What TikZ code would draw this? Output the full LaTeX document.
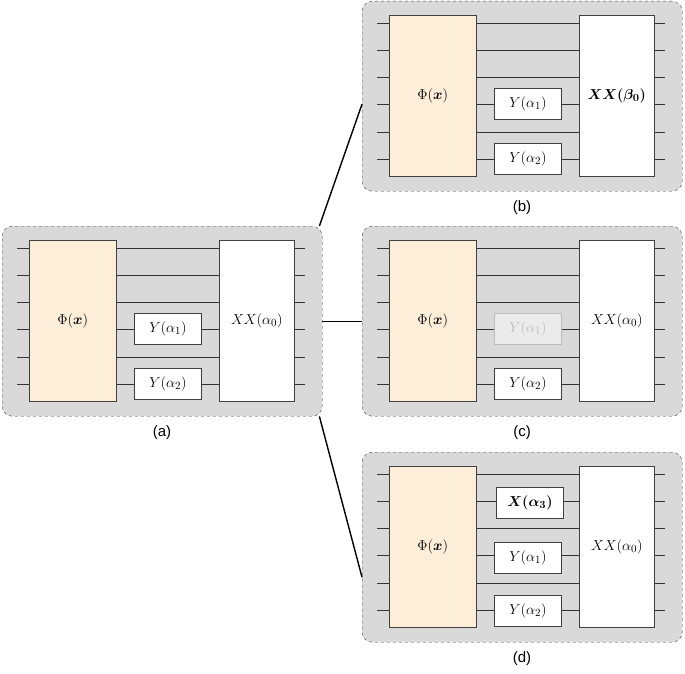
\documentclass[tikz,border=0pt]{standalone}
\usepackage{amsmath}
\usepackage{bm}
\usepackage{fontspec}
\newfontfamily\labelfont{Liberation Sans}
\usepackage{tikz}
\definecolor{panelgrey}{HTML}{D9D9D9}
\definecolor{phifill}{HTML}{FDEEDA}
\definecolor{fadegrey}{HTML}{BDBDBD}
\tikzset{
  panel/.style={draw=black!75, dashed, fill=panelgrey, rounded corners=10pt,
    minimum width=320pt, minimum height=190pt, inner sep=0pt},
  wire/.style={draw=black!80, line width=0.6pt},
  block/.style={draw=black!75, line width=0.6pt, fill=white, inner sep=0pt,
    font=\fontsize{15}{18}\selectfont},
  gate/.style={block, minimum width=67pt, minimum height=31pt},
  link/.style={line width=1.4pt}
}
% one circuit panel: #1 name, #2/#3 top left corner, #4 XX text, #5 caption
\newcommand\CircPanel[5]{
  \begin{scope}[shift={(#2,#3)}]
    \node[panel, anchor=north west] (#1box) at (0,0) {};
    \foreach \w/\y in {1/22,2/49,3/76,4/103,5/131,6/158}
      \draw[wire] (15,\y) coordinate (#1l\w) -- (303,\y) coordinate (#1r\w);
    \node[block, fill=phifill, anchor=north west, minimum width=87pt, minimum height=161pt]
      (#1phi) at (27,14) {$\Phi(\bm{x})$};
    \node[block, anchor=north west, minimum width=75pt, minimum height=161pt]
      (#1xx) at (217,14) {#4};
    \node[font=\labelfont\fontsize{15}{18}\selectfont] (#1cap) at (160,207) {#5};
  \end{scope}
}

\begin{document}
\begin{tikzpicture}[x=1pt, y=-1pt]
\useasboundingbox (0,0) rectangle (685,674);

\CircPanel{a}{2}{226}{$XX(\alpha_0)$}{(a)}
\CircPanel{b}{362}{1}{$\bm{XX(\beta_0)}$}{(b)}
\CircPanel{c}{362}{226}{$XX(\alpha_0)$}{(c)}
\CircPanel{d}{362}{452}{$XX(\alpha_0)$}{(d)}

% gates between the blocks
\node[gate] (aY1) at (168,329) {$Y(\alpha_1)$};
\node[gate] (aY2) at (168,384) {$Y(\alpha_2)$};
\node[gate] (bY1) at (528,104) {$Y(\alpha_1)$};
\node[gate] (bY2) at (528,159) {$Y(\alpha_2)$};
\node[gate, draw=fadegrey, fill=black!8, text=fadegrey] (cY1) at (528,329) {$Y(\alpha_1)$};
\node[gate] (cY2) at (528,384) {$Y(\alpha_2)$};
\node[gate] (dX3) at (530,503) {$\bm{X(\alpha_3)}$};
\node[gate] (dY1) at (528,558) {$Y(\alpha_1)$};
\node[gate] (dY2) at (528,611) {$Y(\alpha_2)$};

% links from (a) to the variants
\draw[link] ([xshift=-3pt]abox.north east) -- ([yshift=-8pt]bbox.west);
\draw[link] (abox.east) -- (cbox.west);
\draw[link] ([xshift=-3pt]abox.south east) -- ([yshift=-30pt]dbox.west);
\end{tikzpicture}
\end{document}
